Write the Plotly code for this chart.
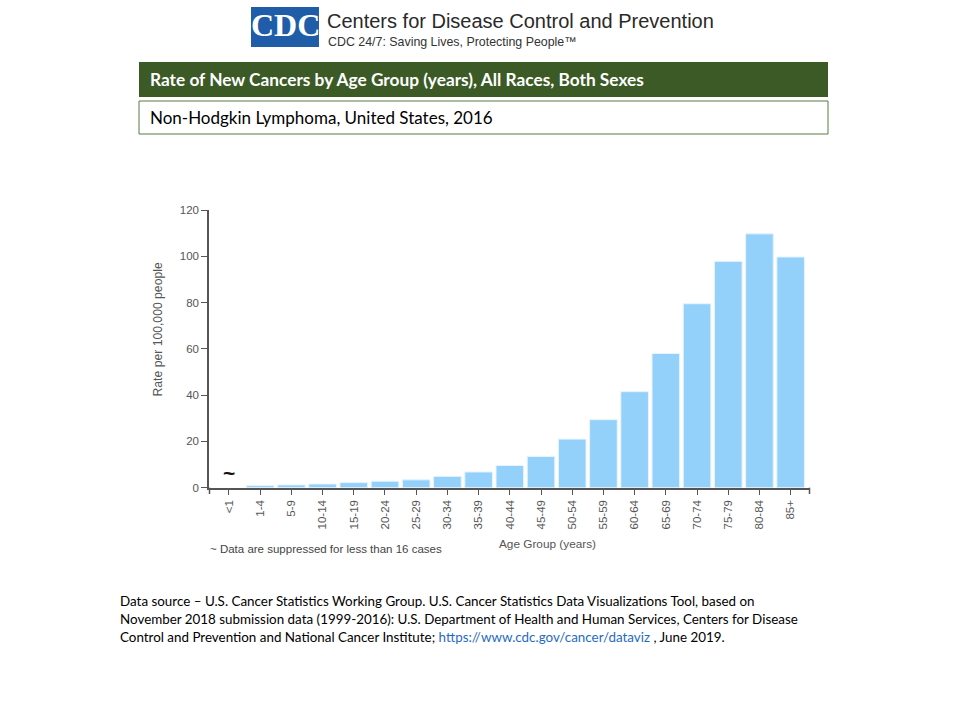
import plotly.graph_objects as go

age_groups = ["<1", "1-4", "5-9", "10-14", "15-19", "20-24", "25-29", "30-34", "35-39",
              "40-44", "45-49", "50-54", "55-59", "60-64", "65-69", "70-74", "75-79",
              "80-84", "85+"]
rates = [None, 0.9, 1.2, 1.6, 2.2, 2.8, 3.4, 4.9, 6.8, 9.6, 13.5, 21.0, 29.4, 41.5,
         58.0, 79.5, 97.8, 109.7, 99.7]
y_ticks = [0, 20, 40, 60, 80, 100, 120]

W, H = 960, 720
def px(x): return x / W
def py(y): return 1 - y / H

fig = go.Figure()
fig.add_trace(go.Bar(
    x=age_groups, y=rates,
    marker=dict(color="#93D0FA", line=dict(color="#E6F4FE", width=1)),
    hoverinfo="x+y",
))

axis_font = dict(family="Liberation Sans, Arial", size=11.5, color="#555555")
title_font = dict(family="Liberation Sans, Arial", size=11.8, color="#555555")

fig.update_layout(
    width=W, height=H,
    autosize=False,
    margin=dict(l=0, r=0, t=0, b=0, pad=0, autoexpand=False),
    paper_bgcolor="white", plot_bgcolor="white",
    showlegend=False,
    bargap=0.115,
    xaxis=dict(
        domain=[px(209), px(810)],
        type="category",
        categoryorder="array", categoryarray=age_groups,
        range=[-0.64, 18.62],
        showline=True, linecolor="#555555", linewidth=1.5,
        ticks="outside", ticklen=6, tickcolor="#555555", tickwidth=1,
        tickangle=-90, tickfont=axis_font, automargin=False,
        showgrid=False, zeroline=False, fixedrange=True,
    ),
    yaxis=dict(
        domain=[py(487.7), py(210)],
        range=[0, 120],
        tickvals=y_ticks,
        showline=True, linecolor="#555555", linewidth=1.5,
        ticks="outside", ticklen=6, tickcolor="#555555", tickwidth=1,
        tickfont=axis_font, automargin=False,
        showgrid=False, zeroline=False, fixedrange=True,
    ),
)

shapes = [
    # CDC logo block
    dict(type="rect", xref="paper", yref="paper", x0=px(251), x1=px(319), y0=py(47), y1=py(7),
         fillcolor="#1F5DA8", line=dict(width=0), layer="below"),
    # green header
    dict(type="rect", xref="paper", yref="paper", x0=px(139), x1=px(828), y0=py(97), y1=py(62),
         fillcolor="#3B5A26", line=dict(width=0)),
    # subtitle box
    dict(type="rect", xref="paper", yref="paper", x0=px(139), x1=px(828), y0=py(134), y1=py(101),
         fillcolor="white", line=dict(color="#5B7A45", width=1)),
    # axis end ticks
    dict(type="line", xref="paper", yref="paper", x0=px(209.5), x1=px(209.5), y0=py(487.7), y1=py(494),
         line=dict(color="#555555", width=1.5)),
    dict(type="line", xref="paper", yref="paper", x0=px(809.5), x1=px(809.5), y0=py(487.7), y1=py(494),
         line=dict(color="#555555", width=1.5)),
]

annotations = [
    dict(text="<b>CDC</b>", x=px(285), y=py(25), xref="paper", yref="paper",
         showarrow=False, font=dict(family="Liberation Serif, DejaVu Serif", size=32, color="white"),
         xanchor="center", yanchor="middle"),
    dict(text="Centers for Disease Control and Prevention", x=px(325), y=py(21), xref="paper", yref="paper",
         showarrow=False, font=dict(family="Liberation Sans, Arial", size=20, color="#2a2a2a"),
         xanchor="left", yanchor="middle"),
    dict(text="CDC 24/7: Saving Lives, Protecting People™", x=px(326), y=py(41.5), xref="paper", yref="paper",
         showarrow=False, font=dict(family="Liberation Sans, Arial", size=12.4, color="#333333"),
         xanchor="left", yanchor="middle"),
    dict(text="<b>Rate of New Cancers by Age Group (years), All Races, Both Sexes</b>", x=px(148), y=py(79.5),
         xref="paper", yref="paper", showarrow=False,
         font=dict(family="Lato, Open Sans", size=17.3, color="white"), xanchor="left", yanchor="middle"),
    dict(text="Non-Hodgkin Lymphoma, United States, 2016", x=px(148), y=py(117.5),
         xref="paper", yref="paper", showarrow=False,
         font=dict(family="Lato, Open Sans", size=17, color="black"), xanchor="left", yanchor="middle"),
    dict(text="<b>~</b>", x="<1", y=6.5, xref="x", yref="y", showarrow=False,
         font=dict(family="Liberation Sans, Arial", size=21, color="#111111"), xanchor="center", yanchor="middle"),
    dict(text="Rate per 100,000 people", x=px(157), y=py(329.5), xref="paper", yref="paper",
         showarrow=False, textangle=-90, font=dict(family="Liberation Sans, Arial", size=12.2, color="#555555"),
         xanchor="center", yanchor="middle"),
    dict(text="Age Group (years)", x=px(547), y=py(544), xref="paper", yref="paper",
         showarrow=False, font=title_font, xanchor="center", yanchor="middle"),
    dict(text="~ Data are suppressed for less than 16 cases", x=px(208), y=py(549), xref="paper", yref="paper",
         showarrow=False, font=dict(family="Liberation Sans, Arial", size=11.5, color="#444444"),
         xanchor="left", yanchor="middle"),
]

footer_lines = [
    "Data source – U.S. Cancer Statistics Working Group. U.S. Cancer Statistics Data Visualizations Tool, based on",
    "November 2018 submission data (1999-2016): U.S. Department of Health and Human Services, Centers for Disease",
    "Control and Prevention and National Cancer Institute; <span style='color:#1F6BC2'>https://www.cdc.gov/cancer/dataviz</span> , June 2019.",
]
for i, line in enumerate(footer_lines):
    annotations.append(dict(text=line, x=px(118), y=py(601 + 18 * i), xref="paper", yref="paper",
                            showarrow=False, font=dict(family="Lato, Open Sans", size=13.4, color="black"),
                            xanchor="left", yanchor="middle"))

fig.update_layout(shapes=shapes, annotations=annotations)
fig.write_html("out.html")
